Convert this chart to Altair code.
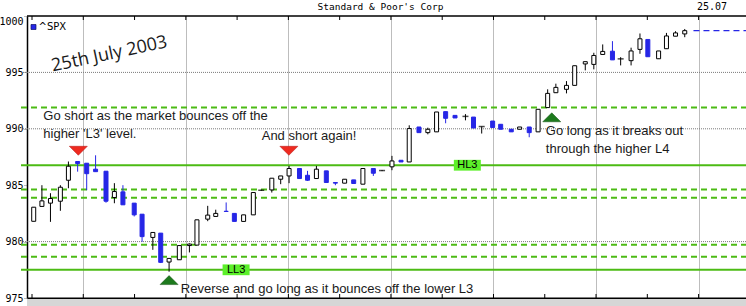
import altair as alt
import pandas as pd
import numpy as np

# ---- candle data (minutes after midnight, S&P 500, 25 July 2003) ----
minutes = [571.0, 575.8, 580.8, 586.6, 591.3, 596.7, 602.0, 607.2, 613.3, 618.2,
           623.2, 629.8, 634.4, 640.7, 645.3, 650.2, 656.2, 662.1, 666.5, 672.8,
           677.5, 683.6, 688.4, 693.8, 699.5, 704.1, 710.3, 715.5, 720.4, 726.5,
           731.2, 736.4, 742.2, 747.5, 752.9, 758.2, 763.6, 769.7, 774.8, 780.6,
           785.9, 790.7, 796.4, 801.6, 806.7, 812.0, 817.5, 823.6, 828.3, 833.1,
           839.5, 844.2, 850.4, 855.3, 860.9, 866.1, 871.7, 876.5, 882.7, 887.5,
           893.7, 898.7, 903.9, 909.6, 914.4, 920.5, 925.7, 930.3, 936.6, 941.2,
           946.5, 951.9]
opens = [981.80, 983.12, 983.41, 983.58, 985.44, 987.10, 986.95, 986.42, 986.24, 983.91,
         984.41, 983.41, 982.43, 980.37, 980.75, 978.19, 978.39, 979.65, 979.69, 981.99,
         982.23, 982.69, 982.50, 981.79, 982.37, 984.55, 984.58, 985.53, 985.82, 986.48,
         985.88, 985.59, 986.27, 985.24, 985.18, 985.47, 985.09, 986.48, 986.30, 986.63,
         987.21, 987.06, 990.16, 989.66, 989.73, 991.52, 991.19, 991.10, 991.04, 990.20,
         990.69, 990.40, 989.96, 989.96, 990.16, 989.73, 991.88, 993.20, 993.50, 993.85,
         995.75, 995.71, 996.59, 996.88, 996.20, 996.04, 997.04, 997.92, 996.21, 997.10,
         998.21, 998.41]
closes = [983.05, 983.61, 983.82, 984.82, 986.68, 986.92, 986.02, 986.20, 983.58, 984.44,
          983.26, 982.37, 980.44, 980.81, 978.16, 978.51, 979.65, 979.78, 981.93, 982.35,
          982.50, 982.67, 981.79, 982.37, 984.35, 984.55, 985.62, 985.82, 986.48, 985.59,
          985.44, 986.42, 985.24, 985.18, 985.53, 985.15, 986.48, 986.06, 986.30, 987.15,
          987.06, 990.02, 989.66, 989.96, 991.49, 990.93, 990.96, 991.10, 990.07, 990.20,
          990.11, 989.96, 989.73, 990.16, 989.66, 991.73, 993.14, 993.67, 993.85, 995.59,
          995.95, 996.50, 996.86, 996.11, 996.20, 996.90, 997.98, 996.39, 996.90, 998.23,
          998.50, 998.70]
highs = [983.05, 985.00, 984.29, 985.00, 987.10, 987.12, 986.95, 987.65, 986.24, 985.18,
         985.00, 983.41, 982.43, 980.81, 980.75, 978.51, 979.65, 979.84, 981.95, 983.17,
         982.83, 983.47, 982.50, 982.37, 984.35, 984.60, 985.62, 985.82, 986.71, 986.48,
         986.27, 986.71, 986.27, 985.24, 985.53, 985.47, 986.48, 986.48, 986.35, 987.60,
         987.21, 990.31, 990.16, 990.10, 991.49, 991.52, 991.19, 991.30, 991.04, 990.20,
         990.69, 990.40, 989.96, 990.16, 990.16, 991.73, 993.50, 994.00, 994.23, 995.59,
         995.95, 996.74, 997.48, 997.77, 996.35, 997.19, 998.45, 997.92, 996.90, 998.50,
         998.65, 998.85]
lows = [981.80, 983.10, 981.75, 982.73, 984.73, 986.20, 984.56, 986.20, 983.45, 983.40,
        983.26, 982.23, 979.98, 979.27, 978.10, 977.33, 978.39, 979.04, 979.69, 981.81,
        982.23, 982.67, 981.79, 981.79, 982.37, 984.50, 984.35, 985.09, 985.18, 985.59,
        985.38, 985.59, 985.24, 985.00, 985.18, 985.15, 985.09, 985.82, 986.25, 986.33,
        987.06, 987.06, 989.66, 989.51, 989.73, 990.49, 990.96, 990.75, 990.07, 989.58,
        990.11, 989.96, 989.73, 989.96, 989.25, 989.73, 991.88, 993.20, 993.14, 993.85,
        995.18, 995.27, 996.59, 996.11, 995.62, 995.62, 996.65, 996.39, 996.21, 997.10,
        998.21, 998.12]

# ---- levels & annotations ----
solid_levels = [986.77, 977.50]
dashed_levels = [991.88, 984.62, 983.88, 979.72, 978.65]
level_labels = ["HL3", "LL3"]
level_label_minutes = [824.7, 689.4]

hgrid = [980, 990, 995]
y_ticks = [975, 980, 985, 990, 995, 1000]
hour_grid = [10, 11, 12, 13, 14, 15, 16]
half_hours = [9.5, 10, 10.5, 11, 11.5, 12, 12.5, 13, 13.5, 14, 14.5, 15, 15.5, 16]

ann_text = ["Go short as the market bounces off the", "higher 'L3' level.",
            "And short again!", "Go long as it breaks out", "through the higher L4",
            "Reverse and go long as it bounces off the lower L3"]
ann_minute = [576.6, 576.6, 704.4, 870.6, 870.6, 657.1]
ann_price = [991.11, 989.51, 989.38, 989.80, 988.19, 975.80]

sell_minute = [597.1, 720.3]
sell_price = [988.05, 988.05]
buy_minute = [650.2, 874.1]
buy_price = [976.59, 991.02]

last_line_minute = 957.0
date_label = "25th July 2003"
date_minute = 615.3
date_price = 996.59

W, H = 719, 282
BLUE = "#2626e6"
GREEN = "#4cbb14"
MONO = "DejaVu Sans Mono"
SANS = "Liberation Sans"

# ---- tables ----
c = pd.DataFrame({"t": np.array(minutes) / 60.0, "open": opens, "close": closes,
                  "high": highs, "low": lows})
c["kind"] = np.where(c["close"] > c["open"], "up",
                     np.where(c["close"] < c["open"], "down", "flat"))
one = pd.DataFrame({"d": [0]})

xs = alt.Scale(domain=[9.5, 16.4135], nice=False, zero=False)
ys = alt.Scale(domain=[975, 1000], nice=False, zero=False)
xaxis = alt.Axis(values=hour_grid, format="d",
                 labelExpr="datum.value % 2 == 0 ? datum.label : ''",
                 grid=True, gridColor="#7a7a7a", gridDash=[1, 1], gridWidth=1,
                 tickSize=0, labelPadding=4, domainColor="black", domainWidth=2,
                 labelFont=MONO, labelFontSize=10, labelColor="black", title=None)
yaxis = alt.Axis(values=y_ticks, format="d", grid=False, tickSize=3, tickColor="#7a7a7a",
                 tickDash=[1, 1], labelPadding=1, domainColor="black", domainWidth=1.5,
                 labelFont=MONO, labelFontSize=10, labelColor="black", title=None,
                 labelBaseline={"condition": {"test": "datum.value == 1000", "value": "top"},
                                "value": "middle"})


def X(f="t"):
    return alt.X(f"{f}:Q", scale=xs, axis=xaxis)


def Y(f="p"):
    return alt.Y(f"{f}:Q", scale=ys, axis=yaxis)


kind_dom = ["up", "down", "flat"]
stroke_scale = alt.Scale(domain=kind_dom, range=["black", BLUE, "black"])
fill_scale = alt.Scale(domain=kind_dom, range=["white", BLUE, "black"])

band = alt.Chart(one).mark_rect(color="#d6d6d6").encode(
    x=alt.value(0), x2=alt.value(W), y=alt.value(H + 1), y2=alt.value(H + 9))

hg = alt.Chart(pd.DataFrame({"p": hgrid})).mark_rule(
    color="#7a7a7a", strokeDash=[1, 1], strokeWidth=1).encode(
    y=Y(), x=alt.value(-4), x2=alt.value(W))

solid = alt.Chart(pd.DataFrame({"p": solid_levels})).mark_rule(
    color=GREEN, strokeWidth=2).encode(y=Y(), x=alt.value(-6), x2=alt.value(W))
dashed = alt.Chart(pd.DataFrame({"p": dashed_levels})).mark_rule(
    color=GREEN, strokeWidth=2, strokeDash=[6, 4]).encode(
    y=Y(), x=alt.value(-6), x2=alt.value(W))

wicks = alt.Chart(c).mark_rule(strokeWidth=1).encode(
    x=X(), y=Y("low"), y2="high:Q",
    stroke=alt.Stroke("kind:N", scale=stroke_scale, legend=None))

bodies = alt.Chart(c).transform_filter("datum.kind != 'flat'").mark_bar(
    width=4, strokeWidth=1).encode(
    x=X(), y=Y("open"), y2="close:Q",
    fill=alt.Fill("kind:N", scale=fill_scale, legend=None),
    stroke=alt.Stroke("kind:N", scale=stroke_scale, legend=None))

doji = alt.Chart(c).transform_filter("datum.kind == 'flat'").mark_tick(
    orient="horizontal", size=6, thickness=1.5, color="black").encode(
    x=X(), y=Y("close"))

last = alt.Chart(pd.DataFrame({"t": [last_line_minute / 60.0], "p": [closes[-1]]})).mark_rule(
    color=BLUE, strokeDash=[6, 4], strokeWidth=1.2).encode(
    x=X(), x2=alt.value(W), y=Y())

sells = alt.Chart(pd.DataFrame({"t": np.array(sell_minute) / 60.0, "p": sell_price})).mark_point(
    shape="M-1,-0.5L1,-0.5L0,0.5Z", size=324, filled=True, fill="#ee2a1f",
    stroke="#b01010", strokeWidth=0.5, opacity=1).encode(x=X(), y=Y())
buys = alt.Chart(pd.DataFrame({"t": np.array(buy_minute) / 60.0, "p": buy_price})).mark_point(
    shape="M0,-0.5L1,0.5L-1,0.5Z", size=324, filled=True, fill="#1d7a1d",
    stroke="#145214", strokeWidth=0.5, opacity=1).encode(x=X(), y=Y())

lab_df = pd.DataFrame({"t": np.array(level_label_minutes) / 60.0, "p": solid_levels,
                       "label": level_labels})
lab_box = alt.Chart(lab_df).mark_point(
    shape="M-1,-0.4L1,-0.4L1,0.4L-1,0.4Z", size=729, filled=True, fill="#5cf02a",
    strokeWidth=0, opacity=1).encode(x=X(), y=Y())
lab_txt = alt.Chart(lab_df).mark_text(font=SANS, fontSize=11, color="black",
                                      baseline="middle", align="center").encode(
    x=X(), y=Y(), text="label:N")

ann = alt.Chart(pd.DataFrame({"t": np.array(ann_minute) / 60.0, "p": ann_price,
                              "txt": ann_text})).mark_text(
    font=SANS, fontSize=13, color="#1a1a1a", align="left", baseline="middle").encode(
    x=X(), y=Y(), text="txt:N")

date = alt.Chart(pd.DataFrame({"t": [date_minute / 60.0], "p": [date_price]})).mark_text(
    text=date_label, font="Open Sans", fontSize=18, angle=348, color="#1a1a1a",
    align="center", baseline="middle").encode(x=X(), y=Y())

title = alt.Chart(one).mark_text(text="Standard & Poor's Corp", font=MONO, fontSize=9.5,
                                 color="black", align="center", baseline="middle").encode(
    x=alt.value(353.5), y=alt.value(-8.7))
stamp = alt.Chart(one).mark_text(text="25.07", font=MONO, fontSize=10, color="black",
                                 align="center", baseline="middle").encode(
    x=alt.value(685), y=alt.value(-8.7))

leg_sq = alt.Chart(one).mark_square(size=25, filled=True, fill=BLUE, stroke="#101060",
                                    strokeWidth=0.7, opacity=1).encode(
    x=alt.value(6.5), y=alt.value(11))
leg_tx = alt.Chart(one).mark_text(text="^SPX", font="DejaVu Sans", fontSize=10,
                                  color="black", align="left", baseline="middle").encode(
    x=alt.value(11.5), y=alt.value(11))

top_border = alt.Chart(one).mark_rule(color="black", strokeWidth=1.5).encode(
    x=alt.value(0), x2=alt.value(W), y=alt.value(0))
top_ticks = alt.Chart(pd.DataFrame({"t": half_hours})).mark_rule(
    color="black", strokeWidth=1).encode(x=X(), y=alt.value(0), y2=alt.value(4))
bot_ticks = alt.Chart(pd.DataFrame({"t": half_hours})).mark_rule(
    color="black", strokeWidth=1).encode(x=X(), y=alt.value(H - 4), y2=alt.value(H))

chart = alt.layer(
    band, hg, solid, dashed, wicks, bodies, doji, last, sells, buys,
    lab_box, lab_txt, ann, date, title, stamp, leg_sq, leg_tx,
    top_border, top_ticks, bot_ticks
).properties(
    width=W, height=H,
    autosize=alt.AutoSizeParams(type="none"),
    padding={"left": 27, "top": 16, "right": 0, "bottom": 8},
    background="white",
).configure_view(stroke=None)

chart.save("out.html", embed_options={"renderer": "svg", "actions": False})
